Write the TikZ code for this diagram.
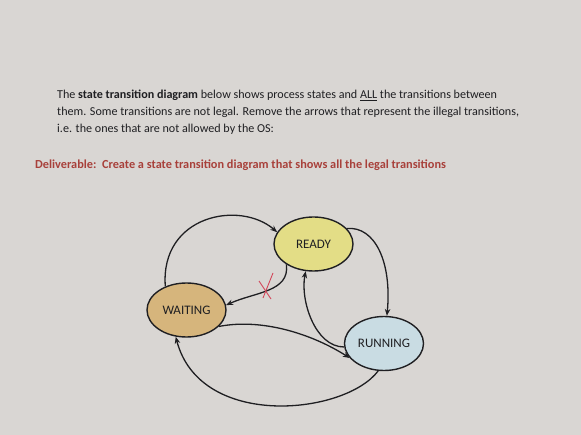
\documentclass[tikz,border=0pt]{standalone}
\usepackage{fontspec}
\setmainfont{Carlito}
\usetikzlibrary{shapes.geometric,arrows.meta}
\definecolor{bg}{HTML}{D9D6D3}
\definecolor{ink}{HTML}{1F1F22}
\definecolor{delv}{HTML}{A8403A}
\definecolor{readyc}{HTML}{E3DD86}
\definecolor{waitc}{HTML}{D6B57C}
\definecolor{runc}{HTML}{C9DCE3}
\definecolor{xred}{HTML}{D2475A}
\tikzset{
  state/.style={ellipse, draw=ink, line width=1.4pt, minimum width=79pt, minimum height=54pt, inner sep=0pt, font=\fontsize{13}{15}\selectfont, text=ink},
  trans/.style={draw=ink, line width=1.3pt, -{Stealth[length=7pt,width=5.5pt]}},
  para/.style={anchor=base west, inner sep=0pt, font=\fontsize{12.1}{14}\selectfont, text=ink},
}
\begin{document}
\begin{tikzpicture}[x=1pt,y=-1pt]
\fill[bg] (0,0) rectangle (581,435);
\useasboundingbox (0,0) rectangle (581,435);
\node[para] (l1) at (57,99) {The \textbf{state transition diagram} below shows process states and \underline{ALL} the transitions between};
\node[para] (l2) at (57,116) {them. Some transitions are not legal. Remove the arrows that represent the illegal transitions,};
\node[para] (l3) at (57,133) {i.e. the ones that are not allowed by the OS:};
\node[para, text=delv, font=\fontsize{12.3}{14}\selectfont] (dl) at (35,169) {\textbf{Deliverable:\ \ Create a state transition diagram that shows all the legal transitions}};

\node[state, fill=readyc] (ready) at (313.5,244) {READY};
\node[state, fill=waitc] (wait) at (186.5,310) {WAITING};
\node[state, fill=runc] (run) at (384,343.5) {RUNNING};

\draw[trans] (wait.132) .. controls (160,215) and (240,200) .. (ready.162);
\draw[trans] (ready.217) .. controls (290,292) and (255,292) .. (wait.7);
\draw[trans] (ready.25) .. controls (375,226) and (392,262) .. (run.84);
\draw[trans] (run.185) .. controls (315,347) and (300,300) .. (ready.254);
\draw[trans] (wait.333) .. controls (262,318) and (312,334) .. (run.203);
\draw[trans] (run.258) .. controls (345,415) and (200,430) .. (wait.248);

\coordinate (xa) at (259,281);
\coordinate (xb) at (271,299);
\coordinate (xc) at (273,273);
\coordinate (xd) at (263,298);
\draw[xred, line width=0.9pt] (xa) -- (xb);
\draw[xred, line width=0.9pt] (xc) -- (xd);
\end{tikzpicture}
\end{document}
